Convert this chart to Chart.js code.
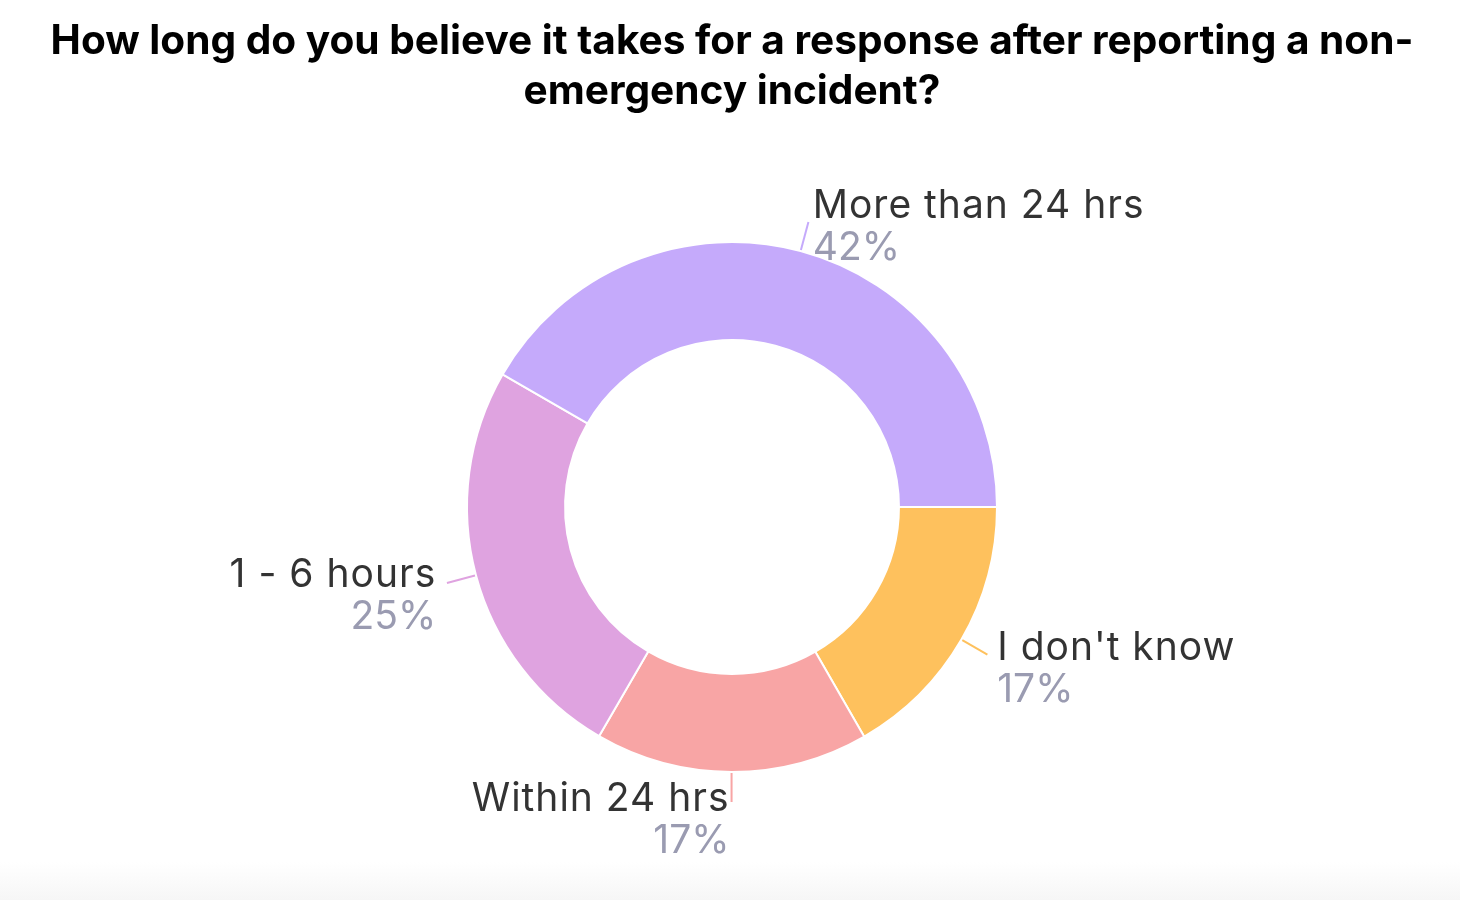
<!DOCTYPE html>
<html>
<head>
<meta charset="utf-8">
<script src="https://cdn.jsdelivr.net/npm/chart.js@4"></script>
<style>
  html, body { margin: 0; padding: 0; }
  body {
    width: 1460px; height: 900px; overflow: hidden;
    background: linear-gradient(to bottom, #ffffff 0px, #ffffff 862px, #f6f6f6 900px);
  }
  #wrap { position: relative; width: 1460px; height: 900px; }
</style>
</head>
<body>
<div id="wrap"><canvas id="chart"></canvas></div>
<script>
// data
const answers = ["I don't know", 'Within 24 hrs', '1 - 6 hours', 'More than 24 hrs'];
const shares = [16.7, 16.7, 25, 41.7];
const sliceColors = ['#fec15d', '#f8a5a5', '#dfa3e0', '#c5aafb'];
const titleLines = [
    'How long do you believe it takes for a response after reporting a non-',
    'emergency incident?'
];

// leader lines + two-line labels outside each slice
const sliceLabels = {
    id: 'sliceLabels',
    afterDatasetsDraw(chart) {
        const ctx = chart.ctx;
        const meta = chart.getDatasetMeta(0);
        ctx.save();
        meta.data.forEach((arc, i) => {
            const p = arc.getProps(['x', 'y', 'startAngle', 'endAngle', 'outerRadius'], true);
            const mid = (p.startAngle + p.endAngle) / 2;
            const cos = Math.cos(mid), sin = Math.sin(mid);
            const x1 = p.x + cos * (p.outerRadius + 1), y1 = p.y + sin * (p.outerRadius + 1);
            const x2 = p.x + cos * (p.outerRadius + 30), y2 = p.y + sin * (p.outerRadius + 30);

            ctx.strokeStyle = sliceColors[i];
            ctx.lineWidth = 2;
            ctx.beginPath();
            ctx.moveTo(x1, y1);
            ctx.lineTo(x2, y2);
            ctx.stroke();

            const onRight = cos > 0.01;
            const tx = x2 + (onRight ? 2 : -2) + 9 * cos;
            const ty = y2 + 2.4 + 6.6 * sin;
            ctx.textAlign = onRight ? 'left' : 'right';
            ctx.textBaseline = 'alphabetic';
            ctx.font = '39px Inter';
            ctx.letterSpacing = '1px';
            ctx.fillStyle = '#333333';
            ctx.fillText(answers[i], tx, ty);
            ctx.letterSpacing = '0px';
            ctx.fillStyle = '#9a9bb1';
            ctx.fillText(Math.round(shares[i]) + '%', tx, ty + 42);
        });
        ctx.restore();
    }
};

new Chart(document.getElementById('chart'), {
    type: 'doughnut',
    data: {
        labels: answers,
        datasets: [{
            data: shares,
            backgroundColor: sliceColors,
            borderColor: '#ffffff',
            borderWidth: 2
        }]
    },
    options: {
        responsive: true,
        maintainAspectRatio: false,
        animation: false,
        rotation: 90,
        cutout: '63%',
        layout: { padding: { top: 0, bottom: 127, left: 4, right: 0 } },
        plugins: {
            legend: { display: false },
            tooltip: { enabled: false },
            title: {
                display: true,
                text: titleLines,
                color: '#000000',
                font: { family: 'Inter', size: 40.6, weight: 'bold', lineHeight: 50 / 40.6 },
                padding: { top: 17, bottom: 124 }
            }
        }
    },
    plugins: [sliceLabels]
});
</script>
</body>
</html>
